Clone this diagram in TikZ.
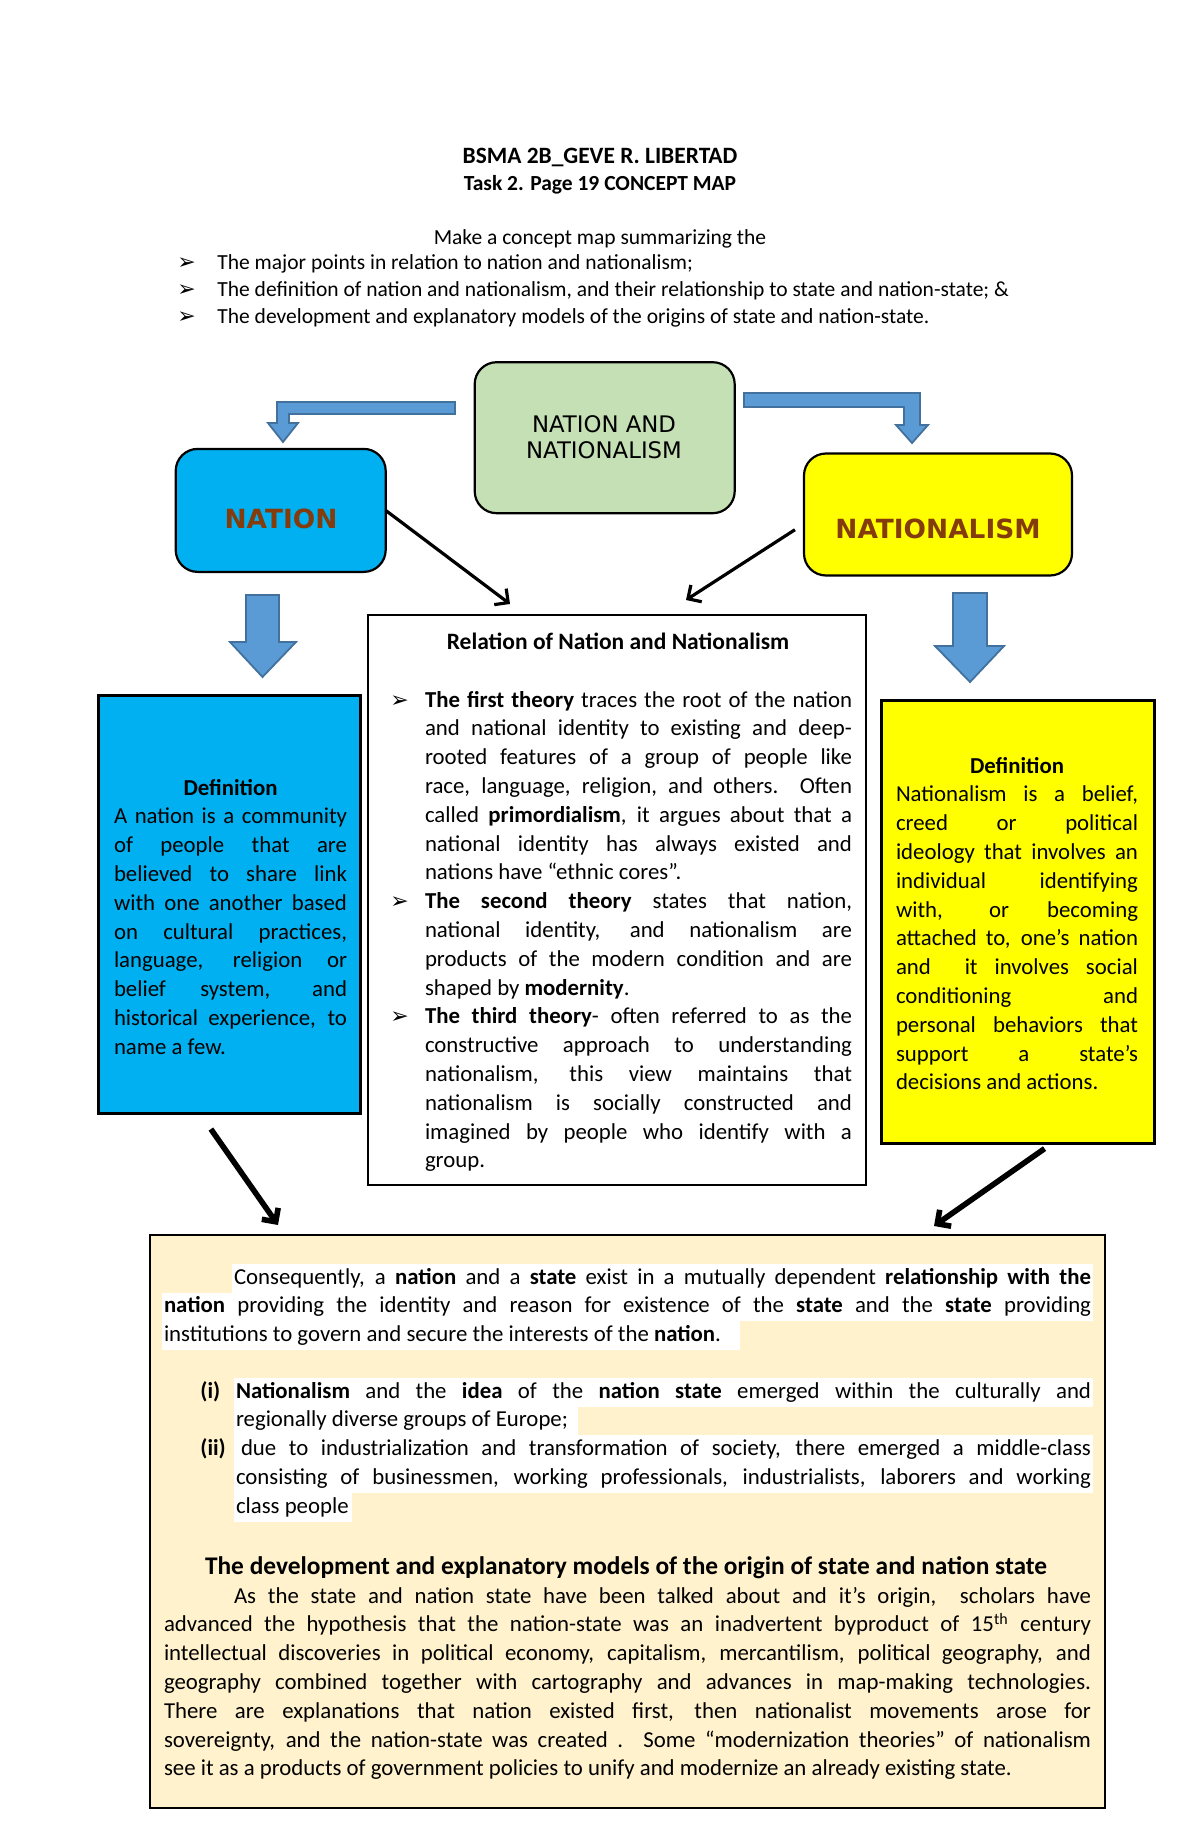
\documentclass[tikz,border=0pt]{standalone}
\usepackage{fontspec}
\setmainfont{Carlito}
\newfontfamily\dejavu{DejaVu Sans}
\usetikzlibrary{arrows.meta}
\definecolor{nblue}{HTML}{00B0F0}
\definecolor{nyellow}{HTML}{FFFF00}
\definecolor{ngreen}{HTML}{C5E0B4}
\definecolor{abfill}{HTML}{5B9BD5}
\definecolor{abline}{HTML}{41719C}
\definecolor{brownt}{HTML}{843C0C}
\definecolor{cream}{HTML}{FFF2CC}
\newcommand\JL[2]{\makebox[#1][s]{\strut #2}}
\newcommand\LL[2]{\makebox[#1][l]{\strut #2}}
\newcommand\CL[2]{\makebox[#1][c]{\strut #2}}
\begin{document}
\begin{tikzpicture}[x=0.5pt,y=-0.5pt,
  box/.style={draw=black, line width=1.1pt, inner sep=0pt, outer sep=0pt},
  rbox/.style={box, rounded corners=11pt},
  para/.style={anchor=north west, inner sep=0pt, outer sep=0pt, align=left, font=\fontsize{11.4}{14.4}\selectfont},
  hdr/.style={anchor=base west, inner sep=0pt, font=\fontsize{10.75}{13.5}\selectfont},
  bul/.style={anchor=base west, inner sep=0pt, font=\dejavu\fontsize{11}{12}\selectfont},
  lbl/.style={anchor=base west, inner sep=0pt, font=\bfseries\fontsize{11.4}{14.4}\selectfont},
  blockarrow/.style={fill=abfill, draw=abline, line width=0.9pt},
  link/.style={draw=black, line width=1.6pt, -{Straight Barb[length=5pt,width=10pt]}},
  boldlink/.style={link, line width=2.8pt},
  hl/.style={fill=white, draw=none},
  boxlabel/.style={inner sep=0pt, text=brownt, font=\dejavu\bfseries\fontsize{13.2}{14}\selectfont}
]
\useasboundingbox (0,0) rectangle (1200,1835);
\fill[white] (0,0) rectangle (1200,1835);

% ---------- header ----------
\node[anchor=base, inner sep=0pt, font=\bfseries\fontsize{11.7}{14}\selectfont] (title) at (600,163.5) {BSMA 2B\_GEVE R. LIBERTAD};
\node[anchor=base, inner sep=0pt, font=\bfseries\fontsize{10.75}{13}\selectfont] (task) at (600,191) {Task 2. Page 19 CONCEPT MAP};
\node[anchor=base, inner sep=0pt, font=\fontsize{10.75}{13}\selectfont] (make) at (600,245) {Make a concept map summarizing the};
\node[bul] (hb1) at (177,269.5) {➢};
\node[bul] (hb2) at (177,296.5) {➢};
\node[bul] (hb3) at (177,323.4) {➢};
\node[hdr] (h1) at (217,269.5) {The major points in relation to nation and nationalism;};
\node[hdr] (h2) at (217,296.5) {The definition of nation and nationalism, and their relationship to state and nation-state; \&};
\node[hdr] (h3) at (217,323.4) {The development and explanatory models of the origins of state and nation-state.};

% ---------- top boxes ----------
\node[rbox, fill=ngreen, minimum width=130pt, minimum height=75.5pt] (nn) at (604.7,437.7) {};
\node[rbox, fill=nblue, minimum width=105pt, minimum height=61.5pt] (nation) at (280.7,510.4) {};
\node[rbox, fill=nyellow, minimum width=134pt, minimum height=61pt] (nationalism) at (938,514.5) {};
\node[inner sep=0pt, align=center, font=\dejavu\fontsize{11.4}{12.7}\selectfont] (nntext) at (604,437) {NATION AND\\NATIONALISM};
\node[boxlabel] (nationtext) at (281,519) {NATION};
\node[boxlabel] (nationalismtext) at (938,529) {NATIONALISM};

% ---------- elbow block arrows ----------
\draw[blockarrow] (455,402) -- (277,402) -- (277,423) -- (268,423) -- (283,442) -- (298,423) -- (289,423) -- (289,414) -- (455,414) -- cycle;
\draw[blockarrow] (744,393) -- (920,393) -- (920,425) -- (928,425) -- (912,443) -- (896,425) -- (904,425) -- (904,407) -- (744,407) -- cycle;

% ---------- down block arrows ----------
\draw[blockarrow] (246,595) -- (279,595) -- (279,642) -- (296,642) -- (262.5,677) -- (230,642) -- (246,642) -- cycle;
\draw[blockarrow] (953,593) -- (987,593) -- (987,646) -- (1004,646) -- (970,682) -- (935,646) -- (953,646) -- cycle;

% ---------- middle boxes ----------
\node[box, fill=nblue, line width=1.5pt, minimum width=131pt, minimum height=209pt] (bdef) at (229,904) {};
\node[box, fill=white, minimum width=249pt, minimum height=285pt] (rel) at (617,900) {};
\node[box, fill=nyellow, line width=1.5pt, minimum width=136.5pt, minimum height=221.5pt] (ydef) at (1017.5,921.5) {};

% ---------- diagonal arrows ----------
\coordinate (t1) at (510,604);
\coordinate (t2) at (686,600);
\coordinate (t3) at (278,1225);
\coordinate (t4) at (934,1226);
\draw[link] (nation.east) -- (t1);
\draw[link, shorten <=5.4pt] (nationalism.184) -- (t2);

% ---------- blue definition ----------
\node[para] (bdeftext) at (114,775) {%
\CL{116.5pt}{\textbf{Definition}}\\
\JL{116.5pt}{A nation is a community}\\
\JL{116.5pt}{of people that are}\\
\JL{116.5pt}{believed to share link}\\
\JL{116.5pt}{with one another based}\\
\JL{116.5pt}{on cultural practices,}\\
\JL{116.5pt}{language, religion or}\\
\JL{116.5pt}{belief system, and}\\
\JL{116.5pt}{historical experience, to}\\
\LL{116.5pt}{name a few.}};

% ---------- relation box ----------
\node[anchor=base, inner sep=0pt, font=\bfseries\fontsize{11.75}{14}\selectfont] (reltitle) at (618,649) {Relation of Nation and Nationalism};
\node[bul] (rb1) at (390,707) {➢};
\node[bul] (rb2) at (390,908.6) {➢};
\node[bul] (rb3) at (390,1023.8) {➢};
\node[para] (reltext) at (425,687) {%
\JL{213.5pt}{\textbf{The first theory} traces the root of the nation}\\
\JL{213.5pt}{and national identity to existing and deep-}\\
\JL{213.5pt}{rooted features of a group of people like}\\
\JL{213.5pt}{race, language, religion, and others. Often}\\
\JL{213.5pt}{called \textbf{primordialism}, it argues about that a}\\
\JL{213.5pt}{national identity has always existed and}\\
\LL{213.5pt}{nations have “ethnic cores”.}\\
\JL{213.5pt}{\textbf{The second theory} states that nation,}\\
\JL{213.5pt}{national identity, and nationalism are}\\
\JL{213.5pt}{products of the modern condition and are}\\
\LL{213.5pt}{shaped by \textbf{modernity}.}\\
\JL{213.5pt}{\textbf{The third theory}- often referred to as the}\\
\JL{213.5pt}{constructive approach to understanding}\\
\JL{213.5pt}{nationalism, this view maintains that}\\
\JL{213.5pt}{nationalism is socially constructed and}\\
\JL{213.5pt}{imagined by people who identify with a}\\
\LL{213.5pt}{group.}};

% ---------- yellow definition ----------
\node[para] (ydeftext) at (896,753) {%
\CL{121pt}{\textbf{Definition}}\\
\JL{121pt}{Nationalism is a belief,}\\
\JL{121pt}{creed or political}\\
\JL{121pt}{ideology that involves an}\\
\JL{121pt}{individual identifying}\\
\JL{121pt}{with, or becoming}\\
\JL{121pt}{attached to, one’s nation}\\
\JL{121pt}{and\ \ it involves social}\\
\JL{121pt}{conditioning and}\\
\JL{121pt}{personal behaviors that}\\
\JL{121pt}{support a state’s}\\
\LL{121pt}{decisions and actions.}};

% ---------- bottom box ----------
\node[box, fill=cream, minimum width=477.5pt, minimum height=286.5pt] (bottom) at (627.5,1521.5) {};
\draw[boldlink, shorten <=9.8pt] (bdef.262) -- (t3);
\draw[boldlink, shorten <=4.9pt] (ydef.279.6) -- (t4);

% white highlight bands
\fill[hl] (232,1263.8) rectangle (1093,1292.6);
\fill[hl] (162,1292.6) rectangle (1093,1321.4);
\fill[hl] (162,1321.4) rectangle (740,1350.2);
\fill[hl] (234,1377.8) rectangle (1093,1406.6);
\fill[hl] (234,1406.6) rectangle (578,1435.4);
\fill[hl] (234,1435.4) rectangle (1093,1464.2);
\fill[hl] (234,1464.2) rectangle (1093,1493);
\fill[hl] (234,1493) rectangle (352,1521.8);

\node[para] (p1) at (164,1264) {%
\hspace*{35pt}\JL{428.5pt}{Consequently, a \textbf{nation} and a \textbf{state} exist in a mutually dependent \textbf{relationship with the}}\\
\JL{463.5pt}{\textbf{nation} providing the identity and reason for existence of the \textbf{state} and the \textbf{state} providing}\\
\LL{463.5pt}{institutions to govern and secure the interests of the \textbf{nation}.}};

\node[lbl] (li) at (200,1398) {(i)};
\node[lbl] (lii) at (200,1455.6) {(ii)};
\node[para] (items) at (236,1378) {%
\JL{427.5pt}{\textbf{Nationalism} and the \textbf{idea} of the \textbf{nation state} emerged within the culturally and}\\
\LL{427.5pt}{regionally diverse groups of Europe;}\\
\JL{427.5pt}{\hspace*{2.5pt}due to industrialization and transformation of society, there emerged a middle-class}\\
\JL{427.5pt}{consisting of businessmen, working professionals, industrialists, laborers and working}\\
\LL{427.5pt}{class people}};

\node[anchor=base, inner sep=0pt, font=\bfseries\fontsize{12.7}{14}\selectfont] (devhead) at (626,1574) {The development and explanatory models of the origin of state and nation state};

\node[para] (p2) at (164,1583) {%
\hspace*{35pt}\JL{428.5pt}{As the state and nation state have been talked about and it’s origin,\ \ scholars have}\\
\JL{463.5pt}{advanced the hypothesis that the nation-state was an inadvertent byproduct of 15\textsuperscript{th} century}\\
\JL{463.5pt}{intellectual discoveries in political economy, capitalism, mercantilism, political geography, and}\\
\JL{463.5pt}{geography combined together with cartography and advances in map-making technologies.}\\
\JL{463.5pt}{There are explanations that nation existed first, then nationalist movements arose for}\\
\JL{463.5pt}{sovereignty, and the nation-state was created . Some “modernization theories” of nationalism}\\
\LL{463.5pt}{see it as a products of government policies to unify and modernize an already existing state.}};
\end{tikzpicture}
\end{document}
